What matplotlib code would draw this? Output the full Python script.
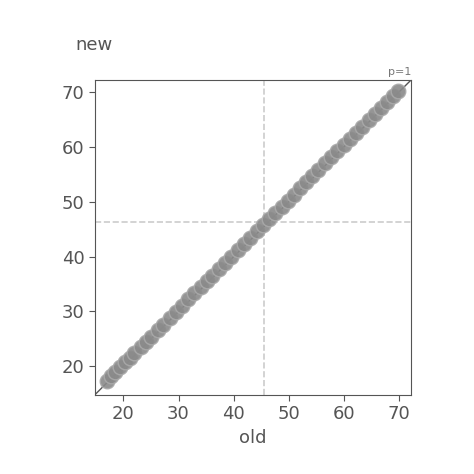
import matplotlib
matplotlib.use("Agg")
import matplotlib.pyplot as plt

old = [17.0, 17.8, 18.5, 19.4, 20.3, 21.1, 22.0, 23.2, 24.1, 25.0, 26.3, 27.2, 28.4, 29.5, 30.6,
       31.8, 32.9, 34.0, 35.2, 36.1, 37.3, 38.5, 39.6, 40.8, 41.9, 43.0, 44.2, 45.3, 46.4, 47.5,
       48.7, 49.8, 50.9, 52.1, 53.2, 54.3, 55.4, 56.6, 57.7, 58.8, 60.0, 61.1, 62.2, 63.3, 64.5,
       65.6, 66.7, 67.8, 68.9, 69.8]
new = [17.4, 18.2, 18.9, 19.8, 20.7, 21.5, 22.4, 23.6, 24.5, 25.4, 26.7, 27.6, 28.8, 29.9, 31.0,
       32.2, 33.3, 34.4, 35.6, 36.5, 37.7, 38.9, 40.0, 41.2, 42.3, 43.4, 44.6, 45.7, 46.8, 47.9,
       49.1, 50.2, 51.3, 52.5, 53.6, 54.7, 55.8, 57.0, 58.1, 59.2, 60.4, 61.5, 62.6, 63.7, 64.9,
       66.0, 67.1, 68.2, 69.3, 70.2]
mean_old = 45.6
mean_new = 46.3
lims = [14.8, 72.2]
ticks = [20, 30, 40, 50, 60, 70]

fig = plt.figure(figsize=(4.74, 4.74), dpi=100)
ax = fig.add_axes([0.2, 0.167, 0.667, 0.664])
ax.set_xlim(lims); ax.set_ylim(lims)
ax.plot(lims, lims, color="#555555", lw=1, zorder=1)
ax.axvline(mean_old, color="#cccccc", ls="--", lw=1.2, zorder=0)
ax.axhline(mean_new, color="#cccccc", ls="--", lw=1.2, zorder=0)
ax.scatter(old, new, s=110, color="#8a8a8a", edgecolor="#aaaaaa", alpha=0.9, zorder=2)
ax.set_xticks(ticks); ax.set_yticks(ticks)
ax.tick_params(colors="#555555", labelsize=13, length=4)
for s in ax.spines.values():
    s.set_color("#555555")
ax.set_xlabel("old", fontsize=13, color="#555555")
fig.text(0.16, 0.895, "new", fontsize=13, color="#555555")
ax.text(1.0, 1.01, "p=1", transform=ax.transAxes, ha="right", va="bottom", fontsize=8, color="#777777")
fig.savefig("out.png", dpi=100)
